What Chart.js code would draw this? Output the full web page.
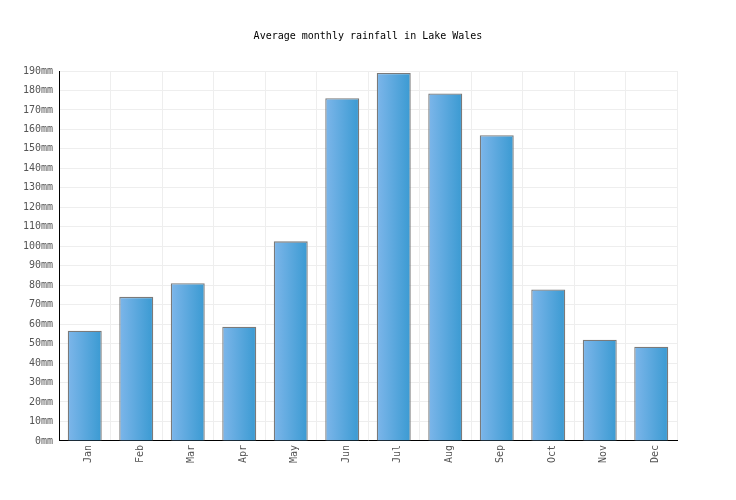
<!DOCTYPE html>
<html>
<head>
<meta charset="utf-8">
<script src="https://cdn.jsdelivr.net/npm/chart.js@4/dist/chart.umd.min.js"></script>
<style>
  html, body { margin: 0; padding: 0; background: #fff; }
  #wrap { width: 736px; height: 500px; }
</style>
</head>
<body>
<div id="wrap"><canvas id="rainChart" width="736" height="500"></canvas></div>
<script>
const months = ['Jan', 'Feb', 'Mar', 'Apr', 'May', 'Jun', 'Jul', 'Aug', 'Sep', 'Oct', 'Nov', 'Dec'];
const rainfall = [56.6, 74, 81, 58.7, 102.5, 176, 189, 178.5, 157, 77.8, 52, 48.4];
const yMax = 190;
const yStep = 10;
const barShare = 0.66;
const monoFont = 'DejaVu Sans Mono';

// horizontal gradient across each bar, worked out from the x scale
function barFill(context) {
    const chart = context.chart;
    const xs = chart.scales.x;
    if (!xs || !chart.chartArea) return '#5aa8de';
    const cx = xs.getPixelForValue(context.dataIndex);
    const half = (xs.width / months.length) * barShare / 2;
    const g = chart.ctx.createLinearGradient(cx - half, 0, cx + half, 0);
    g.addColorStop(0, '#7db6ea');
    g.addColorStop(1, '#3a9ad2');
    return g;
}

const ctx = document.getElementById('rainChart').getContext('2d');
new Chart(ctx, {
    type: 'bar',
    data: {
        labels: months,
        datasets: [{
            data: rainfall,
            backgroundColor: barFill,
            borderColor: '#7a7a7a',
            borderWidth: 1.3,
            categoryPercentage: barShare,
            barPercentage: 1
        }]
    },
    options: {
        responsive: false,
        animation: false,
        layout: { padding: { top: 14, right: 0, bottom: 33, left: 0 } },
        plugins: {
            legend: { display: false },
            tooltip: { enabled: false },
            title: {
                display: true,
                text: 'Average monthly rainfall in Lake Wales',
                color: '#000',
                font: { family: monoFont, size: 10, weight: 'normal' },
                padding: { top: 16, bottom: 29 }
            }
        },
        scales: {
            x: {
                grid: { color: '#eeeeee', offset: true, drawTicks: false },
                border: { color: '#000', width: 1 },
                ticks: {
                    color: '#555',
                    font: { family: monoFont, size: 10 },
                    maxRotation: 90,
                    minRotation: 90,
                    labelOffset: 4,
                    padding: 4
                }
            },
            y: {
                min: 0,
                max: yMax,
                grid: { color: '#eeeeee', drawTicks: false },
                border: { color: '#000', width: 1 },
                ticks: {
                    stepSize: yStep,
                    color: '#555',
                    font: { family: monoFont, size: 10 },
                    padding: 6,
                    callback: v => v + 'mm'
                },
                afterFit(axis) { axis.width = 59; }
            },
            // empty right-hand gutter so the title centres on the full page
            gutter: {
                position: 'right',
                display: true,
                grid: { display: false },
                border: { display: false },
                ticks: { display: false },
                afterFit(axis) { axis.width = 59; }
            }
        }
    }
});
</script>
</body>
</html>
